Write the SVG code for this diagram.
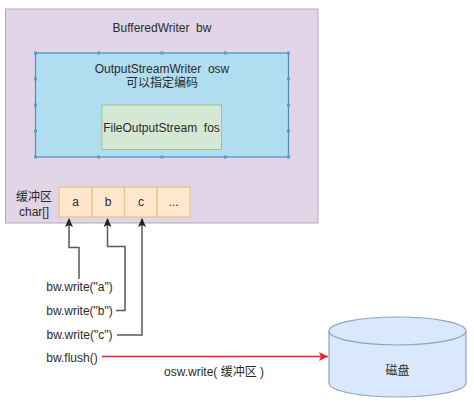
<svg xmlns="http://www.w3.org/2000/svg" width="474" height="405" viewBox="0 0 474 405">
<style>
text{font-family:"Liberation Sans","Noto Sans CJK SC",sans-serif;font-size:12px;fill:#2b2b2b;text-anchor:middle}
.cell{fill:#ffe6cc;stroke:#e3c57f;stroke-width:1.2}
.h{fill:#5b9bc8}
.gl{fill:none;stroke:#5a5a5a;stroke-width:1.5}
</style>
<defs>
<marker id="ka" markerWidth="10" markerHeight="10" refX="8" refY="4" orient="auto" markerUnits="userSpaceOnUse"><path d="M0 0L9 4L0 8L2 4Z" fill="#222"/></marker>
<marker id="re" markerWidth="12" markerHeight="10" refX="9" refY="4.5" orient="auto" markerUnits="userSpaceOnUse"><path d="M0 0L9 4.5L0 9L2 4.5Z" fill="#e8232a"/></marker>
</defs>
<g id="bw"><rect x="5.5" y="9" width="312.500" height="214" fill="#e1d5e7" stroke="#b3a9bd"/><text x="162" y="32">BufferedWriter&#160; bw</text></g>
<g id="osw"><rect x="35.500" y="53" width="253" height="104" fill="#b1ddf0" stroke="#4a8fbe" stroke-width="1.2"/>
<text x="162" y="73">OutputStreamWriter&#160; osw</text><text x="162" y="87">可以指定编码</text>
<g class="h"><rect x="34" y="51.500" width="3" height="3"/><rect x="97" y="51.500" width="3" height="3"/><rect x="160.500" y="51.500" width="3" height="3"/><rect x="224" y="51.500" width="3" height="3"/><rect x="287" y="51.500" width="3" height="3"/><rect x="34" y="155.500" width="3" height="3"/><rect x="97" y="155.500" width="3" height="3"/><rect x="160.500" y="155.500" width="3" height="3"/><rect x="224" y="155.500" width="3" height="3"/><rect x="287" y="155.500" width="3" height="3"/><rect x="34" y="77.500" width="3" height="3"/><rect x="34" y="103.500" width="3" height="3"/><rect x="34" y="129.500" width="3" height="3"/><rect x="287" y="77.500" width="3" height="3"/><rect x="287" y="103.500" width="3" height="3"/><rect x="287" y="129.500" width="3" height="3"/></g></g>
<g id="fos"><rect x="102" y="105" width="119.500" height="44.500" fill="#d5e8d4" stroke="#9fc48f"/><text x="161.500" y="131.500">FileOutputStream&#160; fos</text></g>
<g id="buffer-label"><text x="34" y="201">缓冲区</text><text x="34" y="216">char[]</text></g>
<g id="cell-a"><rect class="cell" x="59" y="187" width="33" height="30"/><text x="75.500" y="206">a</text></g>
<g id="cell-b"><rect class="cell" x="92" y="187" width="32.500" height="30"/><text x="108" y="206">b</text></g>
<g id="cell-c"><rect class="cell" x="124.500" y="187" width="32.500" height="30"/><text x="141" y="206">c</text></g>
<g id="cell-more"><rect class="cell" x="157" y="187" width="33" height="30"/><text x="173.500" y="206">...</text></g>
<g id="write-a"><text x="79.500" y="291">bw.write("a")</text></g>
<g id="write-b"><text x="79.500" y="315">bw.write("b")</text></g>
<g id="write-c"><text x="79.500" y="339">bw.write("c")</text></g>
<g id="flush"><text x="72" y="362">bw.flush()</text></g>
<g id="disk"><path d="M329 331V383C329 391 360 397 397.500 397S466 391 466 383V331" fill="#dae8fc" stroke="#8ea3c0" stroke-width="1.200"/><ellipse cx="397.500" cy="331" rx="68.500" ry="14" fill="#dae8fc" stroke="#8ea3c0" stroke-width="1.200"/><text x="397.500" y="375">磁盘</text></g>
<g id="connectors">
<path class="gl" d="M79 279V247.500H69V219" marker-end="url(#ka)"/>
<path class="gl" d="M116 310.500H125V246.500H107.500V219" marker-end="url(#ka)"/>
<path class="gl" d="M117 335H142V219" marker-end="url(#ka)"/>
<path d="M102 356.500H328" fill="none" stroke="#e8232a" stroke-width="1.600" marker-end="url(#re)"/>
</g>
<text id="edge-label" x="214" y="376">osw.write( 缓冲区 )</text>
</svg>
